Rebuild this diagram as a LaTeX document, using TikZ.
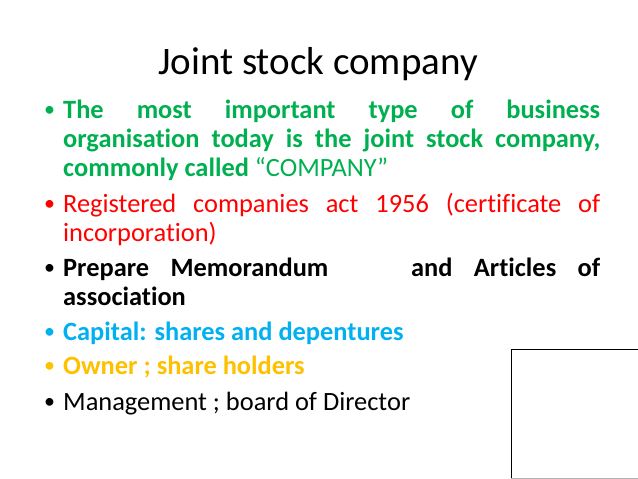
\documentclass[tikz,border=0pt]{standalone}
\usepackage{fontspec}
\setmainfont{Carlito}[Ligatures={NoCommon}]
\definecolor{cgreen}{RGB}{0,176,80}
\definecolor{cred}{RGB}{255,0,0}
\definecolor{cblue}{RGB}{0,176,240}
\definecolor{cyel}{RGB}{255,192,0}
\begin{document}
\begin{tikzpicture}[x=1pt,y=-1pt,
  ln/.style={anchor=base west,inner sep=0pt,font=\fontsize{26.4}{30}\selectfont},
  bul/.style={anchor=base west,inner sep=0pt,font=\fontsize{22}{26}\selectfont}]
\useasboundingbox (0,0) rectangle (638,479);
\node[anchor=base,inner sep=0pt,font=\fontsize{39}{44}\selectfont] (title) at (318,74) {Joint stock company};
\node[bul,text=cgreen] (b1) at (44,116) {•};
\node[ln,text=cgreen] (l1) at (63,118) {\bfseries\makebox[537pt][s]{The most important type of business}};
\node[ln,text=cgreen] (l2) at (63,147) {\bfseries\makebox[537pt][s]{organisation today is the joint stock company,}};
\node[ln,text=cgreen] (l3) at (63,176) {\textbf{commonly called} “COMPANY”};
\node[bul,text=cred] (b2) at (44,210) {•};
\node[ln,text=cred] (l4) at (63,212) {\makebox[537pt][s]{Registered companies act 1956 (certificate of}};
\node[ln,text=cred] (l5) at (63,241) {incorporation)};
\node[bul] (b3) at (44,274) {•};
\node[ln] (l6) at (63,276) {\bfseries\makebox[537pt][s]{Prepare Memorandum \hspace{40pt} and Articles of}};
\node[ln] (l7) at (63,305) {\bfseries association};
\node[bul,text=cblue] (b4) at (44,338) {•};
\node[ln,text=cblue] (l8) at (63,340) {\bfseries Capital: shares and depentures};
\node[bul,text=cyel] (b5) at (44,372) {•};
\node[ln,text=cyel] (l9) at (63,374) {\bfseries Owner ; share holders};
\node[bul] (b6) at (44,408) {•};
\node[ln] (l10) at (63,410) {Management ; board of Director};
\draw[line width=0.8pt] (511,478) -- (511,349.5) -- (638,349.5);
\draw[gray!60,line width=0.4pt] (511,478.5) -- (638,478.5);
\end{tikzpicture}
\end{document}
